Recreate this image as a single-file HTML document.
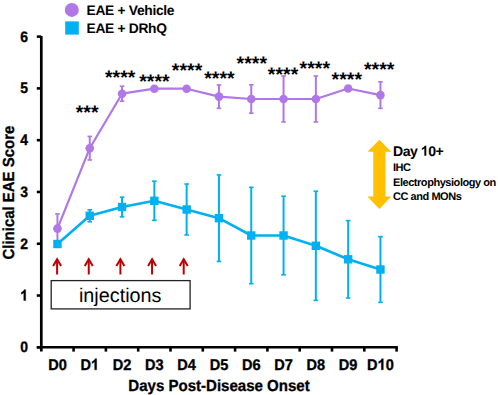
<!DOCTYPE html>
<html><head><meta charset="utf-8"><style>
html,body{margin:0;padding:0;background:#fff;}
svg{display:block;}
text{font-family:"Liberation Sans",sans-serif;fill:#000;text-rendering:geometricPrecision;}
.tk{font-size:15.5px;font-weight:bold;stroke:#000;stroke-width:0.35px;}
.tk2{font-size:15.5px;font-weight:bold;stroke:#000;stroke-width:0.35px;}
.ttl{font-size:16px;font-weight:bold;stroke:#000;stroke-width:0.3px;}
.yt{font-size:16px;font-weight:bold;stroke:#000;stroke-width:0.3px;}
.st{font-size:19.5px;font-weight:bold;}
.inj{font-size:19.8px;}
.lg{font-size:13.8px;font-weight:bold;letter-spacing:-0.3px;}
.d10{font-size:14.1px;font-weight:bold;letter-spacing:-0.5px;}
.sm{font-size:11px;font-weight:bold;letter-spacing:-0.45px;}
</style></head><body>
<svg width="498" height="395" viewBox="0 0 498 395">
<rect width="498" height="395" fill="#fff"/>
<line x1="57.45" y1="213.90" x2="57.45" y2="243.30" stroke="#B077E6" stroke-width="2"/>
<line x1="55.15" y1="213.90" x2="59.75" y2="213.90" stroke="#B077E6" stroke-width="1.6"/>
<line x1="55.15" y1="243.30" x2="59.75" y2="243.30" stroke="#B077E6" stroke-width="1.6"/>
<line x1="89.75" y1="136.40" x2="89.75" y2="160.00" stroke="#B077E6" stroke-width="2"/>
<line x1="87.45" y1="136.40" x2="92.05" y2="136.40" stroke="#B077E6" stroke-width="1.6"/>
<line x1="87.45" y1="160.00" x2="92.05" y2="160.00" stroke="#B077E6" stroke-width="1.6"/>
<line x1="122.05" y1="86.20" x2="122.05" y2="101.20" stroke="#B077E6" stroke-width="2"/>
<line x1="119.75" y1="86.20" x2="124.35" y2="86.20" stroke="#B077E6" stroke-width="1.6"/>
<line x1="119.75" y1="101.20" x2="124.35" y2="101.20" stroke="#B077E6" stroke-width="1.6"/>
<line x1="218.95" y1="84.90" x2="218.95" y2="108.30" stroke="#B077E6" stroke-width="2"/>
<line x1="216.65" y1="84.90" x2="221.25" y2="84.90" stroke="#B077E6" stroke-width="1.6"/>
<line x1="216.65" y1="108.30" x2="221.25" y2="108.30" stroke="#B077E6" stroke-width="1.6"/>
<line x1="251.25" y1="84.80" x2="251.25" y2="113.20" stroke="#B077E6" stroke-width="2"/>
<line x1="248.95" y1="84.80" x2="253.55" y2="84.80" stroke="#B077E6" stroke-width="1.6"/>
<line x1="248.95" y1="113.20" x2="253.55" y2="113.20" stroke="#B077E6" stroke-width="1.6"/>
<line x1="283.55" y1="76.00" x2="283.55" y2="122.00" stroke="#B077E6" stroke-width="2"/>
<line x1="281.25" y1="76.00" x2="285.85" y2="76.00" stroke="#B077E6" stroke-width="1.6"/>
<line x1="281.25" y1="122.00" x2="285.85" y2="122.00" stroke="#B077E6" stroke-width="1.6"/>
<line x1="315.85" y1="76.00" x2="315.85" y2="122.00" stroke="#B077E6" stroke-width="2"/>
<line x1="313.55" y1="76.00" x2="318.15" y2="76.00" stroke="#B077E6" stroke-width="1.6"/>
<line x1="313.55" y1="122.00" x2="318.15" y2="122.00" stroke="#B077E6" stroke-width="1.6"/>
<line x1="380.45" y1="81.85" x2="380.45" y2="108.35" stroke="#B077E6" stroke-width="2"/>
<line x1="378.15" y1="81.85" x2="382.75" y2="81.85" stroke="#B077E6" stroke-width="1.6"/>
<line x1="378.15" y1="108.35" x2="382.75" y2="108.35" stroke="#B077E6" stroke-width="1.6"/>
<polyline points="57.45,228.60 89.75,148.20 122.05,93.70 154.35,88.70 186.65,88.70 218.95,96.60 251.25,99.00 283.55,99.00 315.85,99.00 348.15,88.50 380.45,95.10" fill="none" stroke="#B077E6" stroke-width="2.2" stroke-linejoin="round"/>
<circle cx="57.45" cy="228.60" r="4.3" fill="#B077E6"/>
<circle cx="89.75" cy="148.20" r="4.3" fill="#B077E6"/>
<circle cx="122.05" cy="93.70" r="4.3" fill="#B077E6"/>
<circle cx="154.35" cy="88.70" r="4.3" fill="#B077E6"/>
<circle cx="186.65" cy="88.70" r="4.3" fill="#B077E6"/>
<circle cx="218.95" cy="96.60" r="4.3" fill="#B077E6"/>
<circle cx="251.25" cy="99.00" r="4.3" fill="#B077E6"/>
<circle cx="283.55" cy="99.00" r="4.3" fill="#B077E6"/>
<circle cx="315.85" cy="99.00" r="4.3" fill="#B077E6"/>
<circle cx="348.15" cy="88.50" r="4.3" fill="#B077E6"/>
<circle cx="380.45" cy="95.10" r="4.3" fill="#B077E6"/>
<line x1="89.75" y1="209.80" x2="89.75" y2="221.80" stroke="#00B0F0" stroke-width="2"/>
<line x1="87.45" y1="209.80" x2="92.05" y2="209.80" stroke="#00B0F0" stroke-width="1.6"/>
<line x1="87.45" y1="221.80" x2="92.05" y2="221.80" stroke="#00B0F0" stroke-width="1.6"/>
<line x1="122.05" y1="197.15" x2="122.05" y2="216.85" stroke="#00B0F0" stroke-width="2"/>
<line x1="119.75" y1="197.15" x2="124.35" y2="197.15" stroke="#00B0F0" stroke-width="1.6"/>
<line x1="119.75" y1="216.85" x2="124.35" y2="216.85" stroke="#00B0F0" stroke-width="1.6"/>
<line x1="154.35" y1="181.20" x2="154.35" y2="220.40" stroke="#00B0F0" stroke-width="2"/>
<line x1="152.05" y1="181.20" x2="156.65" y2="181.20" stroke="#00B0F0" stroke-width="1.6"/>
<line x1="152.05" y1="220.40" x2="156.65" y2="220.40" stroke="#00B0F0" stroke-width="1.6"/>
<line x1="186.65" y1="184.00" x2="186.65" y2="235.00" stroke="#00B0F0" stroke-width="2"/>
<line x1="184.35" y1="184.00" x2="188.95" y2="184.00" stroke="#00B0F0" stroke-width="1.6"/>
<line x1="184.35" y1="235.00" x2="188.95" y2="235.00" stroke="#00B0F0" stroke-width="1.6"/>
<line x1="218.95" y1="174.90" x2="218.95" y2="261.50" stroke="#00B0F0" stroke-width="2"/>
<line x1="216.65" y1="174.90" x2="221.25" y2="174.90" stroke="#00B0F0" stroke-width="1.6"/>
<line x1="216.65" y1="261.50" x2="221.25" y2="261.50" stroke="#00B0F0" stroke-width="1.6"/>
<line x1="251.25" y1="187.30" x2="251.25" y2="283.70" stroke="#00B0F0" stroke-width="2"/>
<line x1="248.95" y1="187.30" x2="253.55" y2="187.30" stroke="#00B0F0" stroke-width="1.6"/>
<line x1="248.95" y1="283.70" x2="253.55" y2="283.70" stroke="#00B0F0" stroke-width="1.6"/>
<line x1="283.55" y1="196.20" x2="283.55" y2="274.80" stroke="#00B0F0" stroke-width="2"/>
<line x1="281.25" y1="196.20" x2="285.85" y2="196.20" stroke="#00B0F0" stroke-width="1.6"/>
<line x1="281.25" y1="274.80" x2="285.85" y2="274.80" stroke="#00B0F0" stroke-width="1.6"/>
<line x1="315.85" y1="191.20" x2="315.85" y2="300.40" stroke="#00B0F0" stroke-width="2"/>
<line x1="313.55" y1="191.20" x2="318.15" y2="191.20" stroke="#00B0F0" stroke-width="1.6"/>
<line x1="313.55" y1="300.40" x2="318.15" y2="300.40" stroke="#00B0F0" stroke-width="1.6"/>
<line x1="348.15" y1="220.60" x2="348.15" y2="298.00" stroke="#00B0F0" stroke-width="2"/>
<line x1="345.85" y1="220.60" x2="350.45" y2="220.60" stroke="#00B0F0" stroke-width="1.6"/>
<line x1="345.85" y1="298.00" x2="350.45" y2="298.00" stroke="#00B0F0" stroke-width="1.6"/>
<line x1="380.45" y1="236.60" x2="380.45" y2="302.40" stroke="#00B0F0" stroke-width="2"/>
<line x1="378.15" y1="236.60" x2="382.75" y2="236.60" stroke="#00B0F0" stroke-width="1.6"/>
<line x1="378.15" y1="302.40" x2="382.75" y2="302.40" stroke="#00B0F0" stroke-width="1.6"/>
<polyline points="57.45,244.00 89.75,215.80 122.05,207.00 154.35,200.80 186.65,209.50 218.95,218.20 251.25,235.50 283.55,235.50 315.85,245.80 348.15,259.30 380.45,269.50" fill="none" stroke="#00B0F0" stroke-width="2.6" stroke-linejoin="round"/>
<rect x="53.25" y="239.80" width="8.4" height="8.4" fill="#00B0F0"/>
<rect x="85.55" y="211.60" width="8.4" height="8.4" fill="#00B0F0"/>
<rect x="117.85" y="202.80" width="8.4" height="8.4" fill="#00B0F0"/>
<rect x="150.15" y="196.60" width="8.4" height="8.4" fill="#00B0F0"/>
<rect x="182.45" y="205.30" width="8.4" height="8.4" fill="#00B0F0"/>
<rect x="214.75" y="214.00" width="8.4" height="8.4" fill="#00B0F0"/>
<rect x="247.05" y="231.30" width="8.4" height="8.4" fill="#00B0F0"/>
<rect x="279.35" y="231.30" width="8.4" height="8.4" fill="#00B0F0"/>
<rect x="311.65" y="241.60" width="8.4" height="8.4" fill="#00B0F0"/>
<rect x="343.95" y="255.10" width="8.4" height="8.4" fill="#00B0F0"/>
<rect x="376.25" y="265.30" width="8.4" height="8.4" fill="#00B0F0"/>
<line x1="41.3" y1="36.02" x2="41.3" y2="351.60" stroke="#000" stroke-width="2.7"/>
<line x1="36.8" y1="347.3" x2="397.80" y2="347.3" stroke="#000" stroke-width="2.6"/>
<line x1="36.8" y1="347.30" x2="41.3" y2="347.30" stroke="#000" stroke-width="2.6"/>
<g transform="translate(28.00,352.30) scale(0.92,1)"><text x="-8.45" y="0" class="tk" style="font-size:15.2px;letter-spacing:0.0px">0</text></g>
<line x1="36.8" y1="295.52" x2="41.3" y2="295.52" stroke="#000" stroke-width="2.6"/>
<g transform="translate(28.00,300.52) scale(0.92,1)"><path transform="translate(-8.45,0) scale(0.01520,-0.01520)" d="M391 0H254V516Q179 446 77 413V537Q131 555 194 604Q257 653 280 716H391Z" class="tk" vector-effect="non-scaling-stroke"/></g>
<line x1="36.8" y1="243.74" x2="41.3" y2="243.74" stroke="#000" stroke-width="2.6"/>
<g transform="translate(28.00,248.74) scale(0.92,1)"><text x="-8.45" y="0" class="tk" style="font-size:15.2px;letter-spacing:0.0px">2</text></g>
<line x1="36.8" y1="191.96" x2="41.3" y2="191.96" stroke="#000" stroke-width="2.6"/>
<g transform="translate(28.00,196.96) scale(0.92,1)"><text x="-8.45" y="0" class="tk" style="font-size:15.2px;letter-spacing:0.0px">3</text></g>
<line x1="36.8" y1="140.18" x2="41.3" y2="140.18" stroke="#000" stroke-width="2.6"/>
<g transform="translate(28.00,145.18) scale(0.92,1)"><text x="-8.45" y="0" class="tk" style="font-size:15.2px;letter-spacing:0.0px">4</text></g>
<line x1="36.8" y1="88.40" x2="41.3" y2="88.40" stroke="#000" stroke-width="2.6"/>
<g transform="translate(28.00,93.40) scale(0.92,1)"><text x="-8.45" y="0" class="tk" style="font-size:15.2px;letter-spacing:0.0px">5</text></g>
<line x1="36.8" y1="36.62" x2="41.3" y2="36.62" stroke="#000" stroke-width="2.6"/>
<g transform="translate(28.00,41.62) scale(0.92,1)"><text x="-8.45" y="0" class="tk" style="font-size:15.2px;letter-spacing:0.0px">6</text></g>
<line x1="73.60" y1="347.3" x2="73.60" y2="351.60" stroke="#000" stroke-width="2.6"/>
<line x1="105.90" y1="347.3" x2="105.90" y2="351.60" stroke="#000" stroke-width="2.6"/>
<line x1="138.20" y1="347.3" x2="138.20" y2="351.60" stroke="#000" stroke-width="2.6"/>
<line x1="170.50" y1="347.3" x2="170.50" y2="351.60" stroke="#000" stroke-width="2.6"/>
<line x1="202.80" y1="347.3" x2="202.80" y2="351.60" stroke="#000" stroke-width="2.6"/>
<line x1="235.10" y1="347.3" x2="235.10" y2="351.60" stroke="#000" stroke-width="2.6"/>
<line x1="267.40" y1="347.3" x2="267.40" y2="351.60" stroke="#000" stroke-width="2.6"/>
<line x1="299.70" y1="347.3" x2="299.70" y2="351.60" stroke="#000" stroke-width="2.6"/>
<line x1="332.00" y1="347.3" x2="332.00" y2="351.60" stroke="#000" stroke-width="2.6"/>
<line x1="364.30" y1="347.3" x2="364.30" y2="351.60" stroke="#000" stroke-width="2.6"/>
<line x1="396.60" y1="347.3" x2="396.60" y2="351.60" stroke="#000" stroke-width="2.6"/>
<g transform="translate(57.45,369.80) scale(0.94,1)"><text x="-9.91" y="0" class="tk" style="font-size:15.5px;letter-spacing:0.0px">D0</text></g>
<g transform="translate(89.75,369.80) scale(0.94,1)"><text x="-9.91" y="0" class="tk" style="font-size:15.5px;letter-spacing:0.0px">D</text><path transform="translate(1.29,0) scale(0.01550,-0.01550)" d="M391 0H254V516Q179 446 77 413V537Q131 555 194 604Q257 653 280 716H391Z" class="tk" vector-effect="non-scaling-stroke"/></g>
<g transform="translate(122.05,369.80) scale(0.94,1)"><text x="-9.91" y="0" class="tk" style="font-size:15.5px;letter-spacing:0.0px">D2</text></g>
<g transform="translate(154.35,369.80) scale(0.94,1)"><text x="-9.91" y="0" class="tk" style="font-size:15.5px;letter-spacing:0.0px">D3</text></g>
<g transform="translate(186.65,369.80) scale(0.94,1)"><text x="-9.91" y="0" class="tk" style="font-size:15.5px;letter-spacing:0.0px">D4</text></g>
<g transform="translate(218.95,369.80) scale(0.94,1)"><text x="-9.91" y="0" class="tk" style="font-size:15.5px;letter-spacing:0.0px">D5</text></g>
<g transform="translate(251.25,369.80) scale(0.94,1)"><text x="-9.91" y="0" class="tk" style="font-size:15.5px;letter-spacing:0.0px">D6</text></g>
<g transform="translate(283.55,369.80) scale(0.94,1)"><text x="-9.91" y="0" class="tk" style="font-size:15.5px;letter-spacing:0.0px">D7</text></g>
<g transform="translate(315.85,369.80) scale(0.94,1)"><text x="-9.91" y="0" class="tk" style="font-size:15.5px;letter-spacing:0.0px">D8</text></g>
<g transform="translate(348.15,369.80) scale(0.94,1)"><text x="-9.91" y="0" class="tk" style="font-size:15.5px;letter-spacing:0.0px">D9</text></g>
<g transform="translate(380.45,369.80) scale(0.94,1)"><text x="-14.22" y="0" class="tk" style="font-size:15.5px;letter-spacing:0.0px">D</text><path transform="translate(-3.02,0) scale(0.01550,-0.01550)" d="M391 0H254V516Q179 446 77 413V537Q131 555 194 604Q257 653 280 716H391Z" class="tk" vector-effect="non-scaling-stroke"/><text x="5.60" y="0" class="tk" style="font-size:15.5px;letter-spacing:0.0px">0</text></g>
<text transform="translate(219,390.6) scale(0.94,1)" text-anchor="middle" class="ttl">Days Post-Disease Onset</text>
<text transform="translate(14.3,192.6) rotate(-90) scale(0.935,1)" text-anchor="middle" class="yt">Clinical EAE Score</text>
<text x="87.1" y="119.20" text-anchor="middle" class="st">***</text>
<text x="120.15" y="83.80" text-anchor="middle" class="st">****</text>
<text x="154.45" y="88.40" text-anchor="middle" class="st">****</text>
<text x="187.05" y="77.40" text-anchor="middle" class="st">****</text>
<text x="219.45" y="84.90" text-anchor="middle" class="st">****</text>
<text x="251.8" y="69.70" text-anchor="middle" class="st">****</text>
<text x="283.05" y="81.20" text-anchor="middle" class="st">****</text>
<text x="314.8" y="75.10" text-anchor="middle" class="st">****</text>
<text x="346.8" y="86.40" text-anchor="middle" class="st">****</text>
<text x="379.2" y="76.10" text-anchor="middle" class="st">****</text>
<g stroke="#C00000" stroke-width="2" fill="none"><line x1="57.10" y1="259.5" x2="57.10" y2="274.5"/><polyline points="53.10,266.0 57.10,259.3 61.10,266.0"/></g>
<g stroke="#C00000" stroke-width="2" fill="none"><line x1="88.75" y1="259.5" x2="88.75" y2="274.5"/><polyline points="84.75,266.0 88.75,259.3 92.75,266.0"/></g>
<g stroke="#C00000" stroke-width="2" fill="none"><line x1="120.40" y1="259.5" x2="120.40" y2="274.5"/><polyline points="116.40,266.0 120.40,259.3 124.40,266.0"/></g>
<g stroke="#C00000" stroke-width="2" fill="none"><line x1="152.05" y1="259.5" x2="152.05" y2="274.5"/><polyline points="148.05,266.0 152.05,259.3 156.05,266.0"/></g>
<g stroke="#C00000" stroke-width="2" fill="none"><line x1="183.70" y1="259.5" x2="183.70" y2="274.5"/><polyline points="179.70,266.0 183.70,259.3 187.70,266.0"/></g>
<rect x="51.2" y="280.6" width="138.9" height="28.3" fill="#fff" stroke="#222" stroke-width="1.3"/>
<text x="120.2" y="301.6" text-anchor="middle" class="inj">injections</text>
<circle cx="71.8" cy="9.9" r="7" fill="#B077E6"/>
<rect x="65.2" y="21.4" width="13.6" height="13.2" fill="#00B0F0"/>
<text x="86.5" y="14.9" class="lg">EAE + Vehicle</text>
<text x="86.5" y="33.1" class="lg">EAE + DRhQ</text>
<polygon points="379.4,139.7 391.3,151.8 385.5,151.8 385.5,196.4 391.3,196.4 379.4,209 367.5,196.4 373.3,196.4 373.3,151.8 367.5,151.8" fill="#FFC000"/>
<g transform="translate(393.00,155.80) scale(1.0,1)"><text x="0.00" y="0" class="d10" style="font-size:14.1px;letter-spacing:-0.5px">Day </text><path transform="translate(27.78,0) scale(0.01410,-0.01410)" d="M391 0H254V516Q179 446 77 413V537Q131 555 194 604Q257 653 280 716H391Z" class="d10" vector-effect="non-scaling-stroke"/><text x="35.13" y="0" class="d10" style="font-size:14.1px;letter-spacing:-0.5px">0+</text></g>
<text x="393" y="171.2" class="sm">IHC</text>
<text x="393" y="186.1" class="sm">Electrophysiology on</text>
<text x="393" y="200.2" class="sm">CC and MONs</text>
</svg>
</body></html>
